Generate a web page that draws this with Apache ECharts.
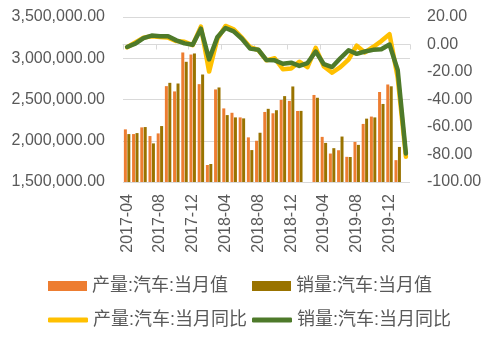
<!DOCTYPE html>
<html>
<head>
<meta charset="utf-8">
<script src="https://cdn.jsdelivr.net/npm/echarts@6/dist/echarts.min.js"></script>
<style>
html,body{margin:0;padding:0;background:#fff;}
#c{width:491px;height:340px;}
</style>
</head>
<body>
<div id="c"></div>
<script>
var categories = ['2017-04','2017-05','2017-06','2017-07','2017-08','2017-09','2017-10','2017-11','2017-12',
  '2018-01','2018-02','2018-03','2018-04','2018-05','2018-06','2018-07','2018-08','2018-09','2018-10','2018-11','2018-12',
  '2019-01','2019-02','2019-03','2019-04','2019-05','2019-06','2019-07','2019-08','2019-09','2019-10','2019-11','2019-12',
  '2020-01','2020-02'];

var prodValue = [2138000, 2081000, 2162000, 2057000, 2089000, 2662000, 2598000, 3070000, 3045000,
  2686000, 1706000, 2622000, 2392000, 2339000, 2283000, 2041000, 2000000, 2349000, 2333000, 2495000, 2483000,
  2361000, 1480000, 2555000, 2047000, 1845000, 1885000, 1805000, 1986000, 2204000, 2293000, 2591000, 2682000,
  1765000, 285000];

var salesValue = [2081000, 2093000, 2166000, 1968000, 2178000, 2702000, 2694000, 2957000, 3058000,
  2803000, 1718000, 2646000, 2311000, 2283000, 2271000, 1887000, 2097000, 2387000, 2370000, 2541000, 2658000,
  2362000, 1480000, 2521000, 1974000, 1910000, 2051000, 1803000, 1950000, 2268000, 2283000, 2446000, 2660000,
  1925000, 310000];

var prodYoY = [-2.0, 1.5, 5.0, 6.0, 5.5, 5.0, 2.5, 2.0, -0.5,
  13.0, -19.7, 4.0, 13.5, 11.0, 5.0, -2.0, -4.0, -11.5, -10.0, -18.0, -17.5,
  -12.5, -16.5, -2.5, -16.0, -20.5, -16.5, -11.0, -0.8, -5.8, -1.8, 2.5, 7.5,
  -24.0, -81.7];

var salesYoY = [-1.8, 0.6, 4.7, 6.5, 6.0, 6.0, 3.0, 0.8, -0.2,
  11.5, -10.8, 5.2, 12.0, 9.6, 4.2, -3.0, -3.8, -11.3, -11.5, -14.0, -13.2,
  -15.6, -13.5, -5.1, -14.3, -16.4, -10.0, -4.2, -6.8, -5.1, -3.9, -3.5, 0.0,
  -18.5, -79.3];

var leftTicks = {min: 1500000, max: 3500000, interval: 500000};
var rightTicks = {min: -100, max: 20, interval: 20};

var names = ['产量:汽车:当月值', '销量:汽车:当月值', '产量:汽车:当月同比', '销量:汽车:当月同比'];

var FONT = "'Liberation Sans', 'Noto Sans CJK SC', sans-serif";
var TXT = '#595959';

var chart = echarts.init(document.getElementById('c'), null, {renderer: 'canvas'});

function legendBox(name, left, top, iconType, w, h) {
  return {
    data: [{name: name, icon: iconType}],
    left: left, top: top, padding: 0,
    itemWidth: w, itemHeight: h, itemGap: 0,
    textStyle: {fontFamily: FONT, fontSize: 18, color: TXT, lineHeight: 18},
    selectedMode: false
  };
}

chart.setOption({
  animation: false,
  backgroundColor: '#ffffff',
  grid: {left: 123, right: 81, top: 17, bottom: 158},
  legend: [
    legendBox(names[0], 48, 277, 'rect', 39, 10),
    legendBox(names[1], 252, 277, 'rect', 39, 10),
    legendBox(names[2], 48, 311, 'roundRect', 40, 5),
    legendBox(names[3], 252, 311, 'roundRect', 40, 5)
  ],
  xAxis: {
    type: 'category',
    data: categories,
    boundaryGap: true,
    axisLine: {lineStyle: {color: '#D9D9D9', width: 1}},
    axisTick: {show: true, interval: 3, length: 5, lineStyle: {color: '#D9D9D9'}},
    axisLabel: {interval: 3, rotate: 90, margin: 12, fontFamily: FONT, fontSize: 16, color: TXT}
  },
  yAxis: [
    {
      type: 'value',
      min: leftTicks.min, max: leftTicks.max, interval: leftTicks.interval,
      axisLine: {show: false}, axisTick: {show: false},
      splitLine: {lineStyle: {color: '#D9D9D9', width: 1}},
      axisLabel: {
        margin: 18, fontFamily: FONT, fontSize: 16, color: TXT,
        formatter: function (v) { return v.toLocaleString('en-US', {minimumFractionDigits: 2, maximumFractionDigits: 2}); }
      }
    },
    {
      type: 'value', position: 'right',
      min: rightTicks.min, max: rightTicks.max, interval: rightTicks.interval,
      axisLine: {show: false}, axisTick: {show: false},
      splitLine: {show: false},
      axisLabel: {
        margin: 17, fontFamily: FONT, fontSize: 16, color: TXT,
        formatter: function (v) { return v.toFixed(2); }
      }
    }
  ],
  series: [
    {name: names[0], type: 'bar', yAxisIndex: 0, data: prodValue, barWidth: 3, barGap: '15%',
     itemStyle: {color: '#ED7D31'}, clip: true},
    {name: names[1], type: 'bar', yAxisIndex: 0, data: salesValue, barWidth: 3, barGap: '15%',
     itemStyle: {color: '#997300'}, clip: true},
    {name: names[2], type: 'line', yAxisIndex: 1, data: prodYoY, symbol: 'none', z: 3,
     lineStyle: {color: '#FFC000', width: 4.5, cap: 'round', join: 'round'}, itemStyle: {color: '#FFC000'}},
    {name: names[3], type: 'line', yAxisIndex: 1, data: salesYoY, symbol: 'none', z: 4,
     lineStyle: {color: '#4E7A2A', width: 4.5, cap: 'round', join: 'round'}, itemStyle: {color: '#4E7A2A'}}
  ]
});
</script>
</body>
</html>
